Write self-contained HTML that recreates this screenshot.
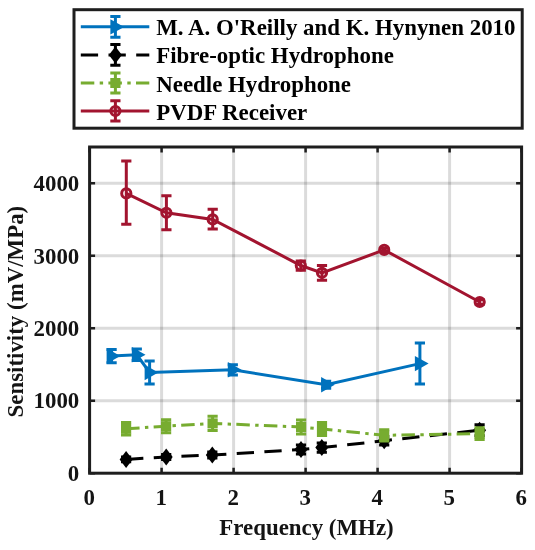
<!DOCTYPE html>
<html><head><meta charset="utf-8"><title>Sensitivity vs Frequency</title>
<style>html,body{margin:0;padding:0;background:#fff}svg{display:block}</style></head>
<body>
<svg width="535" height="550" viewBox="0 0 535 550">
<rect width="535" height="550" fill="#fff"/>
<g stroke="#000" stroke-opacity=".14" stroke-width="3" fill="none">
<path d="M161.6 147.0 V473.2"/>
<path d="M233.6 147.0 V473.2"/>
<path d="M305.6 147.0 V473.2"/>
<path d="M377.6 147.0 V473.2"/>
<path d="M449.6 147.0 V473.2"/>
<path d="M89.6 400.7 H521.6"/>
<path d="M89.6 328.2 H521.6"/>
<path d="M89.6 255.8 H521.6"/>
<path d="M89.6 183.3 H521.6"/>
</g>
<g>
<path d="M111.6 356.0 L136.8 354.8 L149.6 372.5 L232.8 369.8 L326.1 384.8 L419.9 363.6" stroke="#0072BD" stroke-width="3" fill="none"/>
<path d="M111.6 349.6 V362.7 M106.5 349.6 H116.7 M106.5 362.7 H116.7" stroke="#0072BD" stroke-width="3" fill="none"/>
<path d="M106.6 348.3 L120.3 356.0 L106.6 363.7 Z" fill="#0072BD"/>
<path d="M136.8 349.0 V360.6 M131.7 349.0 H141.9 M131.7 360.6 H141.9" stroke="#0072BD" stroke-width="3" fill="none"/>
<path d="M131.8 347.1 L145.5 354.8 L131.8 362.5 Z" fill="#0072BD"/>
<path d="M149.6 361.1 V383.9 M144.5 361.1 H154.7 M144.5 383.9 H154.7" stroke="#0072BD" stroke-width="3" fill="none"/>
<path d="M144.6 364.8 L158.3 372.5 L144.6 380.2 Z" fill="#0072BD"/>
<path d="M232.8 364.7 V375.0 M227.7 364.7 H237.9 M227.7 375.0 H237.9" stroke="#0072BD" stroke-width="3" fill="none"/>
<path d="M227.8 362.1 L241.5 369.8 L227.8 377.5 Z" fill="#0072BD"/>
<path d="M326.1 381.2 V388.3 M321.0 381.2 H331.2 M321.0 388.3 H331.2" stroke="#0072BD" stroke-width="3" fill="none"/>
<path d="M321.1 377.1 L334.8 384.8 L321.1 392.5 Z" fill="#0072BD"/>
<path d="M419.9 343.1 V384.1 M414.8 343.1 H425.0 M414.8 384.1 H425.0" stroke="#0072BD" stroke-width="3" fill="none"/>
<path d="M414.9 355.9 L428.6 363.6 L414.9 371.3 Z" fill="#0072BD"/>
<path d="M126.1 459.4 L166.2 457.0 L212.3 455.0 L301.0 449.5 L321.8 447.6 L384.2 440.7 L479.6 430.2" stroke="#000" stroke-width="3" fill="none" stroke-dasharray="17.3 10.4"/>
<path d="M126.1 457.1 V461.7 M121.0 457.1 H131.2 M121.0 461.7 H131.2" stroke="#000" stroke-width="3" fill="none"/>
<path d="M119.6 459.4 L126.1 450.9 L132.6 459.4 L126.1 467.9 Z" fill="#000"/>
<path d="M166.2 454.5 V459.5 M161.1 454.5 H171.3 M161.1 459.5 H171.3" stroke="#000" stroke-width="3" fill="none"/>
<path d="M159.7 457.0 L166.2 448.5 L172.7 457.0 L166.2 465.5 Z" fill="#000"/>
<path d="M212.3 452.1 V457.9 M207.2 452.1 H217.4 M207.2 457.9 H217.4" stroke="#000" stroke-width="3" fill="none"/>
<path d="M205.8 455.0 L212.3 446.5 L218.8 455.0 L212.3 463.5 Z" fill="#000"/>
<path d="M301.0 445.0 V454.0 M295.9 445.0 H306.1 M295.9 454.0 H306.1" stroke="#000" stroke-width="3" fill="none"/>
<path d="M294.5 449.5 L301.0 441.0 L307.5 449.5 L301.0 458.0 Z" fill="#000"/>
<path d="M321.8 443.0 V452.2 M316.7 443.0 H326.9 M316.7 452.2 H326.9" stroke="#000" stroke-width="3" fill="none"/>
<path d="M315.3 447.6 L321.8 439.1 L328.3 447.6 L321.8 456.1 Z" fill="#000"/>
<path d="M384.2 436.5 V445.0 M379.1 436.5 H389.3 M379.1 445.0 H389.3" stroke="#000" stroke-width="3" fill="none"/>
<path d="M377.7 440.7 L384.2 432.2 L390.7 440.7 L384.2 449.2 Z" fill="#000"/>
<path d="M479.6 424.7 V435.7 M474.5 424.7 H484.7 M474.5 435.7 H484.7" stroke="#000" stroke-width="3" fill="none"/>
<path d="M473.1 430.2 L479.6 421.7 L486.1 430.2 L479.6 438.7 Z" fill="#000"/>
<path d="M126.1 428.8 L166.1 426.2 L212.6 423.4 L301.1 427.0 L322.0 429.0 L384.2 435.3 L479.6 433.7" stroke="#77AC30" stroke-width="3" fill="none" stroke-dasharray="13.5 5.4 3.4 5.3"/>
<path d="M126.1 422.4 V435.1 M121.0 422.4 H131.2 M121.0 435.1 H131.2" stroke="#77AC30" stroke-width="3" fill="none"/>
<rect x="121.0" y="423.8" width="10.2" height="10" fill="#77AC30"/>
<path d="M166.1 419.7 V432.7 M161.0 419.7 H171.2 M161.0 432.7 H171.2" stroke="#77AC30" stroke-width="3" fill="none"/>
<rect x="161.0" y="421.2" width="10.2" height="10" fill="#77AC30"/>
<path d="M212.6 416.2 V430.5 M207.5 416.2 H217.7 M207.5 430.5 H217.7" stroke="#77AC30" stroke-width="3" fill="none"/>
<rect x="207.5" y="418.4" width="10.2" height="10" fill="#77AC30"/>
<path d="M301.1 419.9 V434.1 M296.0 419.9 H306.2 M296.0 434.1 H306.2" stroke="#77AC30" stroke-width="3" fill="none"/>
<rect x="296.0" y="422.0" width="10.2" height="10" fill="#77AC30"/>
<path d="M322.0 422.5 V435.6 M316.9 422.5 H327.1 M316.9 435.6 H327.1" stroke="#77AC30" stroke-width="3" fill="none"/>
<rect x="316.9" y="424.0" width="10.2" height="10" fill="#77AC30"/>
<path d="M384.2 429.8 V440.9 M379.1 429.8 H389.3 M379.1 440.9 H389.3" stroke="#77AC30" stroke-width="3" fill="none"/>
<rect x="379.1" y="430.3" width="10.2" height="10" fill="#77AC30"/>
<path d="M479.6 427.8 V439.6 M474.5 427.8 H484.7 M474.5 439.6 H484.7" stroke="#77AC30" stroke-width="3" fill="none"/>
<rect x="474.5" y="428.7" width="10.2" height="10" fill="#77AC30"/>
<path d="M126.3 193.4 L166.4 212.8 L212.7 219.4 L300.8 265.5 L322.0 272.8 L384.2 249.9 L479.7 302.0" stroke="#A2142F" stroke-width="3" fill="none"/>
<path d="M126.3 161.1 V224.2 M121.2 161.1 H131.4 M121.2 224.2 H131.4" stroke="#A2142F" stroke-width="3" fill="none"/>
<circle cx="126.3" cy="193.4" r="4.6" stroke="#A2142F" stroke-width="3" fill="none"/>
<path d="M166.4 195.8 V229.8 M161.3 195.8 H171.5 M161.3 229.8 H171.5" stroke="#A2142F" stroke-width="3" fill="none"/>
<circle cx="166.4" cy="212.8" r="4.6" stroke="#A2142F" stroke-width="3" fill="none"/>
<path d="M212.7 209.2 V228.9 M207.6 209.2 H217.8 M207.6 228.9 H217.8" stroke="#A2142F" stroke-width="3" fill="none"/>
<circle cx="212.7" cy="219.4" r="4.6" stroke="#A2142F" stroke-width="3" fill="none"/>
<path d="M300.8 261.0 V270.2 M295.7 261.0 H305.9 M295.7 270.2 H305.9" stroke="#A2142F" stroke-width="3" fill="none"/>
<circle cx="300.8" cy="265.5" r="4.6" stroke="#A2142F" stroke-width="3" fill="none"/>
<path d="M322.0 265.4 V280.3 M316.9 265.4 H327.1 M316.9 280.3 H327.1" stroke="#A2142F" stroke-width="3" fill="none"/>
<circle cx="322.0" cy="272.8" r="4.6" stroke="#A2142F" stroke-width="3" fill="none"/>
<path d="M384.2 248.2 V251.6 M379.1 248.2 H389.3 M379.1 251.6 H389.3" stroke="#A2142F" stroke-width="3" fill="none"/>
<circle cx="384.2" cy="249.9" r="4.6" stroke="#A2142F" stroke-width="3" fill="none"/>
<path d="M479.7 299.8 V304.2 M474.6 299.8 H484.8 M474.6 304.2 H484.8" stroke="#A2142F" stroke-width="3" fill="none"/>
<circle cx="479.7" cy="302.0" r="4.6" stroke="#A2142F" stroke-width="3" fill="none"/>
</g>
<path d="M89.6 473.2 v-5.5 M89.6 147.0 v5.5 M161.6 473.2 v-5.5 M161.6 147.0 v5.5 M233.6 473.2 v-5.5 M233.6 147.0 v5.5 M305.6 473.2 v-5.5 M305.6 147.0 v5.5 M377.6 473.2 v-5.5 M377.6 147.0 v5.5 M449.6 473.2 v-5.5 M449.6 147.0 v5.5 M521.6 473.2 v-5.5 M521.6 147.0 v5.5 M89.6 473.2 h5.5 M521.6 473.2 h-5.5 M89.6 400.7 h5.5 M521.6 400.7 h-5.5 M89.6 328.2 h5.5 M521.6 328.2 h-5.5 M89.6 255.8 h5.5 M521.6 255.8 h-5.5 M89.6 183.3 h5.5 M521.6 183.3 h-5.5" stroke="#1e1e1e" stroke-width="2.5" fill="none"/>
<rect x="89.6" y="147.0" width="432.0" height="326.2" fill="none" stroke="#1e1e1e" stroke-width="3"/>
<g font-family="Liberation Serif, serif" font-weight="bold" fill="#141414" font-size="22.9" text-anchor="middle">
<text x="89.3" y="504.7">0</text>
<text x="161.3" y="504.7">1</text>
<text x="233.3" y="504.7">2</text>
<text x="305.3" y="504.7">3</text>
<text x="377.3" y="504.7">4</text>
<text x="449.3" y="504.7">5</text>
<text x="521.3" y="504.7">6</text>
</g>
<g font-family="Liberation Serif, serif" font-weight="bold" fill="#141414" font-size="22.9" text-anchor="end">
<text x="79.3" y="480.9">0</text>
<text x="79.3" y="408.4">1000</text>
<text x="79.3" y="335.9">2000</text>
<text x="79.3" y="263.5">3000</text>
<text x="79.3" y="191.0">4000</text>
</g>
<text font-family="Liberation Serif, serif" font-weight="bold" fill="#141414" font-size="22.9" text-anchor="middle" x="306.5" y="534.7">Frequency (MHz)</text>
<text font-family="Liberation Serif, serif" font-weight="bold" fill="#141414" font-size="22.9" text-anchor="middle" transform="translate(22.7,311.6) rotate(-90)">Sensitivity (mV/MPa)</text>
<rect x="74" y="9.7" width="448.2" height="118.5" fill="#fff" stroke="#1e1e1e" stroke-width="3"/>
<path d="M80.8 26.85 H149.3" stroke="#0072BD" stroke-width="3" fill="none"/>
<path d="M115.4 16.6 V37.2 M110.3 16.6 H120.5 M110.3 37.2 H120.5" stroke="#0072BD" stroke-width="3" fill="none"/>
<path d="M110.4 19.2 L124.1 26.9 L110.4 34.6 Z" fill="#0072BD"/>
<text font-family="Liberation Serif, serif" font-weight="bold" fill="#000" font-size="22.9" x="156.2" y="35.4">M. A. O'Reilly and K. Hynynen 2010</text>
<path d="M80.8 54.9 H149.3" stroke="#000" stroke-width="3" fill="none" stroke-dasharray="17.3 10.4"/>
<path d="M115.4 44.5 V65.3 M110.3 44.5 H120.5 M110.3 65.3 H120.5" stroke="#000" stroke-width="3" fill="none"/>
<path d="M108.9 54.9 L115.4 46.4 L121.9 54.9 L115.4 63.4 Z" fill="#000"/>
<text font-family="Liberation Serif, serif" font-weight="bold" fill="#000" font-size="22.9" x="156.2" y="63.4">Fibre-optic Hydrophone</text>
<path d="M80.8 83.0 H149.3" stroke="#77AC30" stroke-width="3" fill="none" stroke-dasharray="13.5 5.4 3.4 5.3"/>
<path d="M115.4 73.1 V92.9 M110.3 73.1 H120.5 M110.3 92.9 H120.5" stroke="#77AC30" stroke-width="3" fill="none"/>
<rect x="110.3" y="78.0" width="10.2" height="10" fill="#77AC30"/>
<text font-family="Liberation Serif, serif" font-weight="bold" fill="#000" font-size="22.9" x="156.2" y="91.5">Needle Hydrophone</text>
<path d="M80.8 110.95 H149.3" stroke="#A2142F" stroke-width="3" fill="none"/>
<path d="M115.4 100.8 V121.1 M110.3 100.8 H120.5 M110.3 121.1 H120.5" stroke="#A2142F" stroke-width="3" fill="none"/>
<circle cx="115.4" cy="111.0" r="4.6" stroke="#A2142F" stroke-width="3" fill="none"/>
<text font-family="Liberation Serif, serif" font-weight="bold" fill="#000" font-size="22.9" x="156.2" y="119.5">PVDF Receiver</text>
</svg>
</body></html>
